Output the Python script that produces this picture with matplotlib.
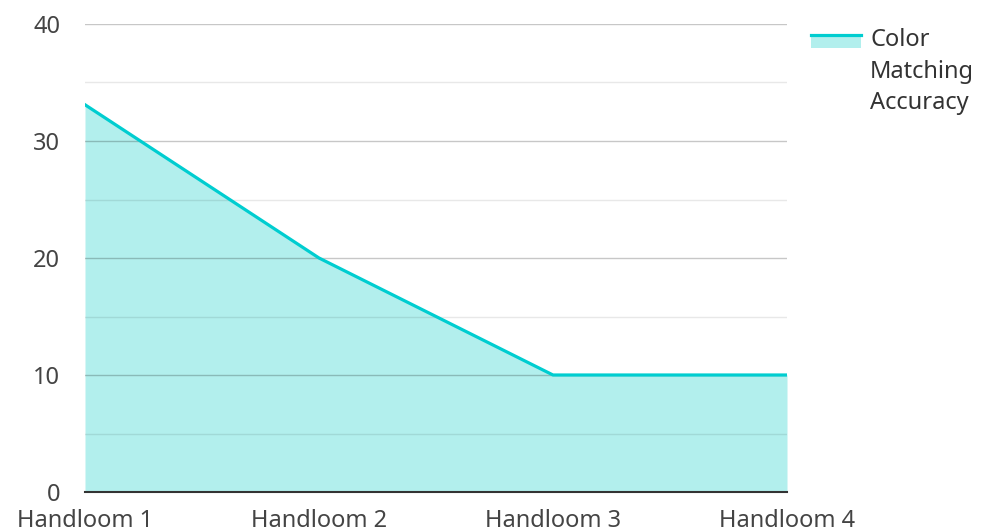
import matplotlib
matplotlib.use("Agg")
import matplotlib.pyplot as plt
from matplotlib.patches import Rectangle
from matplotlib.lines import Line2D

plt.rcParams['font.family'] = ['Noto Sans', 'DejaVu Sans']

categories = ["Handloom 1", "Handloom 2", "Handloom 3", "Handloom 4"]
accuracy = [33.1, 20, 10, 10]
series_name = "Color\nMatching\nAccuracy"

line_color = "#00cdd0"
fill_color = "#b2efed"
W, H = 983, 532

fig = plt.figure(figsize=(W / 100, H / 100), dpi=100)
ax = fig.add_axes([85 / W, 1 - 492 / H, (787 - 85) / W, (492 - 24) / H])

x = list(range(len(categories)))
ax.fill_between(x, accuracy, 0, color=fill_color, lw=0, zorder=1)
ax.plot(x, accuracy, color=line_color, lw=2.3, zorder=3)

ax.set_xlim(0, len(categories) - 1)
ax.set_ylim(0, 40)
ax.set_yticks([0, 10, 20, 30, 40])
ax.set_yticks([5, 15, 25, 35], minor=True)
ax.set_xticks(x)
ax.set_xticklabels(categories)

# grid goes over the fill, semi transparent
ax.grid(True, which='major', axis='y', color='black', alpha=0.22, lw=1, zorder=2)
ax.grid(True, which='minor', axis='y', color='black', alpha=0.09, lw=1, zorder=2)
ax.set_axisbelow(False)
for s in ['top', 'right', 'left']:
    ax.spines[s].set_visible(False)
ax.spines['bottom'].set_color('#333333')
ax.spines['bottom'].set_linewidth(1.5)
ax.spines['bottom'].set_zorder(4)

ax.tick_params(axis='both', which='both', length=0, labelsize=17, colors='#444444')
ax.tick_params(axis='y', pad=18)
ax.tick_params(axis='x', pad=12)

# legend drawn by hand: area swatch + label
fig.add_artist(Rectangle((811 / W, 1 - 48 / H), 50 / W, 13 / H,
                         facecolor=fill_color, edgecolor='none', transform=fig.transFigure))
fig.add_artist(Line2D([811 / W, 861 / W], [1 - 35 / H, 1 - 35 / H],
                      color=line_color, lw=2.3, transform=fig.transFigure))
fig.text(870 / W, 1 - 28 / H, series_name, fontsize=17, color='#333333',
         va='top', ha='left', linespacing=1.42)

fig.savefig("out.png", dpi=100)
